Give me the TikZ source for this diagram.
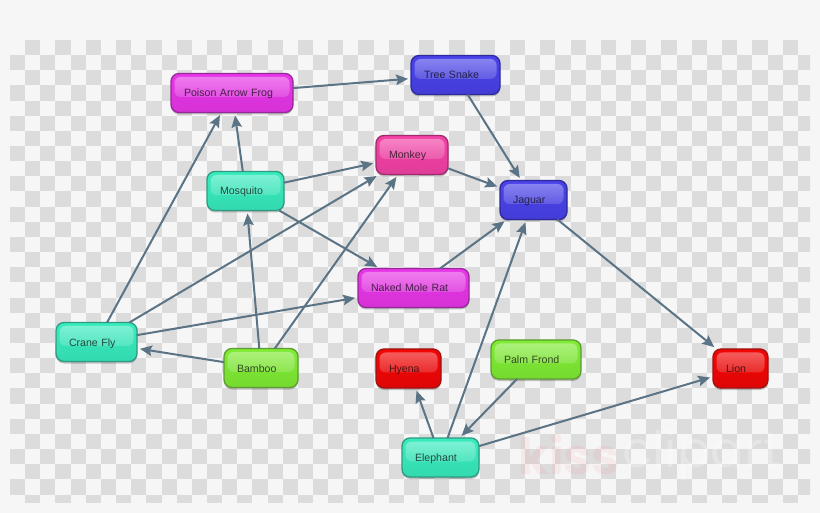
\documentclass[tikz,border=0pt]{standalone}
\usepackage{fontspec}
\setmainfont{Liberation Sans}
\newfontfamily\wmfont{Poppins}
\usetikzlibrary{arrows.meta,shadows,fadings}
\definecolor{bglight}{HTML}{F6F6F6}
\definecolor{bgdark}{HTML}{DCDCDC}
\definecolor{connc}{HTML}{5A7486}
\definecolor{aquac}{HTML}{38ECBE}
\definecolor{aquab}{HTML}{2F9A82}
\definecolor{magc}{HTML}{E836E8}
\definecolor{magb}{HTML}{96289A}
\definecolor{bluec}{HTML}{4A42EA}
\definecolor{blueb}{HTML}{2C2A9C}
\definecolor{pinkc}{HTML}{F442A6}
\definecolor{pinkb}{HTML}{A02A6C}
\definecolor{redc}{HTML}{F20606}
\definecolor{redb}{HTML}{A01212}
\definecolor{greenc}{HTML}{80EC34}
\definecolor{greenb}{HTML}{5C9C32}
\tikzfading[name=glossfade,top color=transparent!62,bottom color=transparent!100]
\tikzset{
  box/.style n args={3}{
    draw=#3,line width=1.3pt,rounded corners=8pt,
    top color=#2,bottom color=#2!92!black,
    drop shadow={shadow xshift=0pt,shadow yshift=-2pt,opacity=.22,fill=black},
    minimum height=39pt,text width=#1pt,inner xsep=13pt,inner ysep=0pt,outer sep=0pt,
    text height=8pt,text depth=0pt,
    align=left,font=\fontsize{10.6pt}{12pt}\selectfont,text=black,text opacity=.68,
    path picture={\fill[white,path fading=glossfade,rounded corners=6pt]
      ([xshift=3.5pt,yshift=-3.5pt]path picture bounding box.north west) rectangle
      ([xshift=-3.5pt,yshift=-4pt]path picture bounding box.east);}},
  conn/.style={draw=connc,line width=2pt,shorten >=3pt,
    -{Stealth[length=12pt,width=10.5pt,inset=2pt]}}
}
\begin{document}
\begin{tikzpicture}[x=1pt,y=-1pt]
\useasboundingbox (0,0) rectangle (820,513);
\fill[bglight] (0,0) rectangle (820,513);
\begin{scope}
\clip (10,40) rectangle (810,502);
\foreach \i in {0,...,52}{\foreach \j in {0,...,30}{
  \pgfmathparse{int(mod(\i+\j,2))}
  \ifnum\pgfmathresult=1
    \fill[bgdark] ({10+15.15*\i},{40+15.15*\j}) rectangle ++(15.15,15.15);
  \fi}}
\end{scope}
\node[font=\wmfont\bfseries\fontsize{50pt}{50pt}\selectfont,text=red!60!white,opacity=.09,anchor=west,inner sep=0pt] (wma) at (518,455) {kiss};
\node[font=\wmfont\fontsize{50pt}{50pt}\selectfont,text=white,opacity=.28,anchor=west,inner sep=0pt] (wmb) at (622,455) {clipart};
\node[box={96}{magc}{magb}] (frog) at (232,93) {Poison Arrow Frog};
\node[box={63}{bluec}{blueb}] (snake) at (455.5,75) {Tree Snake};
\node[box={46}{pinkc}{pinkb}] (monkey) at (412,155) {Monkey};
\node[box={51}{aquac}{aquab}] (mosq) at (245.5,191) {Mosquito};
\node[box={41}{bluec}{blueb}] (jaguar) at (533.5,200) {Jaguar};
\node[box={85}{magc}{magb}] (rat) at (413.5,288) {Naked Mole Rat};
\node[box={55}{aquac}{aquab}] (crane) at (96.5,342) {Crane Fly};
\node[box={48}{greenc}{greenb}] (bamboo) at (261,368) {Bamboo};
\node[box={39}{redc}{redb}] (hyena) at (408.5,368.5) {Hyena};
\node[box={64}{greenc}{greenb}] (palm) at (536,359.5) {Palm Frond};
\node[box={29}{redc}{redb}] (lion) at (740.5,368.5) {Lion};
\node[box={51}{aquac}{aquab}] (eleph) at (440.5,457.5) {Elephant};
\draw[conn] (frog) -- (snake);
\draw[conn] (snake) -- (jaguar);
\draw[conn] (mosq) -- (frog);
\draw[conn] (crane) -- (frog);
\draw[conn] (mosq) -- (monkey);
\draw[conn] (mosq) -- (rat);
\draw[conn] (crane) -- (monkey);
\draw[conn] (crane) -- (rat);
\draw[conn] (bamboo) -- (mosq);
\draw[conn] (bamboo) -- (monkey);
\draw[conn] (bamboo) -- (crane);
\draw[conn] (monkey) -- (jaguar);
\draw[conn] (rat) -- (jaguar);
\draw[conn] (jaguar) -- (lion);
\draw[conn] (eleph) -- (jaguar);
\draw[conn] (eleph) -- (hyena);
\draw[conn] (eleph) -- (lion);
\draw[conn] (palm) -- (eleph);
\end{tikzpicture}
\end{document}
